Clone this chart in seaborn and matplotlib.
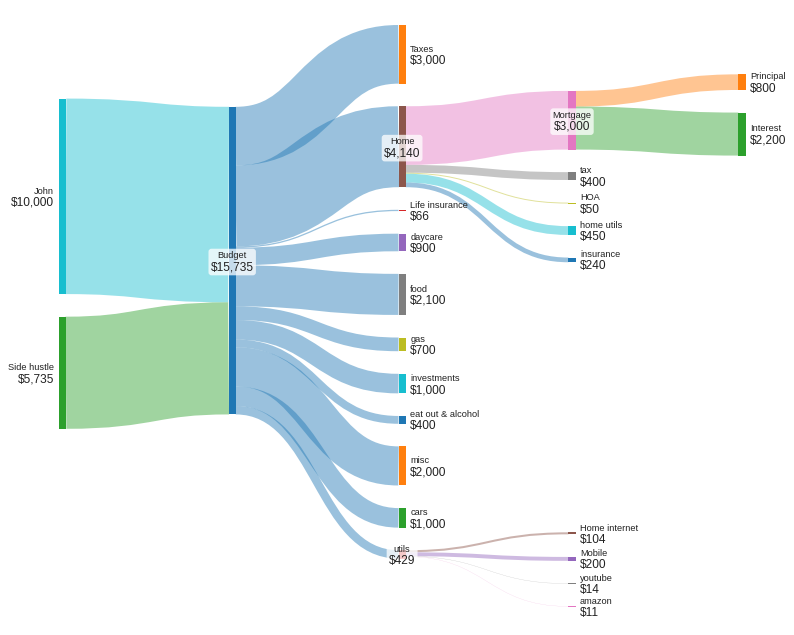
"""
Budget flow Sankey diagram (income -> budget -> spending categories).

The layout is computed here: node heights come from the flow values,
columns from the link depth, and each column is placed so that the
links bend as little as possible (weighted isotonic fit with padding).
"""

import matplotlib
matplotlib.use("Agg")
import matplotlib.pyplot as plt
from matplotlib.path import Path
from matplotlib.patches import PathPatch, Rectangle, FancyBboxPatch
import seaborn as sns

# Nodes, in the order they stack inside each column
NODES = [
    'John', 'Side hustle',
    'Budget',
    'Taxes', 'Home', 'Life insurance', 'daycare', 'food', 'gas',
    'investments', 'eat out & alcohol', 'misc', 'cars', 'utils',
    'Mortgage', 'tax', 'HOA', 'home utils', 'insurance',
    'Home internet', 'Mobile', 'youtube', 'amazon',
    'Principal', 'Interest',
]

# Flows
SOURCES = [
    'John', 'Side hustle',
    'Budget', 'Budget', 'Budget', 'Budget', 'Budget', 'Budget',
    'Budget', 'Budget', 'Budget', 'Budget', 'Budget',
    'Home', 'Home', 'Home', 'Home', 'Home',
    'utils', 'utils', 'utils', 'utils',
    'Mortgage', 'Mortgage',
]
TARGETS = [
    'Budget', 'Budget',
    'Taxes', 'Home', 'Life insurance', 'daycare', 'food', 'gas',
    'investments', 'eat out & alcohol', 'misc', 'cars', 'utils',
    'Mortgage', 'tax', 'HOA', 'home utils', 'insurance',
    'Home internet', 'Mobile', 'youtube', 'amazon',
    'Principal', 'Interest',
]
VALUES = [
    10000, 5735,
    3000, 4140, 66, 900, 2100, 700, 1000, 400, 2000, 1000, 429,
    3000, 400, 50, 450, 240,
    104, 200, 14, 11,
    800, 2200,
]

# Colours: indices into the tab10 palette
PALETTE = sns.color_palette("tab10")
NODE_COLOR = {
    'John': 9, 'Side hustle': 2, 'Budget': 0, 'Taxes': 1, 'Home': 5,
    'Life insurance': 3, 'daycare': 4, 'food': 7, 'gas': 8,
    'investments': 9, 'eat out & alcohol': 0, 'misc': 1, 'cars': 2,
    'utils': 3, 'Mortgage': 6, 'tax': 7, 'HOA': 8, 'home utils': 9,
    'insurance': 0, 'Home internet': 5, 'Mobile': 4, 'youtube': 7,
    'amazon': 6, 'Principal': 1, 'Interest': 2,
}
# which end of each flow gives it its colour
LINK_COLOR_FROM = (['source'] * 13) + (['target'] * 11)
LINK_ALPHA = 0.45

# Layout constants (pixels)
W, H, DPI = 794, 635, 100
KY = 0.01955          # pixels per dollar
PAD = 22.6            # gap between nodes in a column
TOP = 25
LEFT = 58.7
COL_STEP = 169.9
NODE_W = 7.2
NAME_SIZE = 6.7
VALUE_SIZE = 8.6
TEXT_COLOR = '#222222'


def compute_layout():
    idx = {name: i for i, name in enumerate(NODES)}
    n = len(NODES)
    src = [idx[s] for s in SOURCES]
    tgt = [idx[t] for t in TARGETS]

    # column = longest path from a source
    depth = [0] * n
    for _ in range(n):
        for s, t in zip(src, tgt):
            depth[t] = max(depth[t], depth[s] + 1)

    inflow = [0.0] * n
    outflow = [0.0] * n
    for s, t, v in zip(src, tgt, VALUES):
        outflow[s] += v
        inflow[t] += v
    height = [max(inflow[i], outflow[i]) * KY for i in range(n)]

    columns = [[i for i in range(n) if depth[i] == d] for d in range(max(depth) + 1)]
    order = {}
    for col in columns:
        for pos, i in enumerate(col):
            order[i] = pos

    # link offsets inside their source / target node
    off_out = [0.0] * len(VALUES)
    off_in = [0.0] * len(VALUES)
    for i in range(n):
        outs = sorted([k for k in range(len(VALUES)) if src[k] == i], key=lambda k: order[tgt[k]])
        acc = 0.0
        for k in outs:
            off_out[k] = acc
            acc += VALUES[k] * KY
        ins = sorted([k for k in range(len(VALUES)) if tgt[k] == i], key=lambda k: order[src[k]])
        acc = 0.0
        for k in ins:
            off_in[k] = acc
            acc += VALUES[k] * KY

    y = [None] * n

    def fit_column(col):
        desired, weight = [], []
        for i in col:
            num, den = 0.0, 0.0
            for k in range(len(VALUES)):
                if tgt[k] == i and y[src[k]] is not None:
                    num += VALUES[k] * (y[src[k]] + off_out[k] - off_in[k])
                    den += VALUES[k]
                if src[k] == i and y[tgt[k]] is not None:
                    num += VALUES[k] * (y[tgt[k]] + off_in[k] - off_out[k])
                    den += VALUES[k]
            desired.append(num / den if den else TOP)
            weight.append(den if den else 1.0)
        # shift out the stacking offsets, then isotonic (PAVA) fit
        cum, acc = [], 0.0
        for i in col:
            cum.append(acc)
            acc += height[i] + PAD
        z = [d - c for d, c in zip(desired, cum)]
        blocks = []
        for zi, wi in zip(z, weight):
            blocks.append([zi * wi, wi, 1])
            while len(blocks) > 1 and blocks[-2][0] / blocks[-2][1] > blocks[-1][0] / blocks[-1][1]:
                b = blocks.pop()
                blocks[-1][0] += b[0]
                blocks[-1][1] += b[1]
                blocks[-1][2] += b[2]
        fitted = []
        for b in blocks:
            fitted += [max(b[0] / b[1], TOP)] * b[2]
        for i, zi, c in zip(col, fitted, cum):
            y[i] = zi + c

    # the tallest column is stacked from the top, the others follow it
    need = [sum(height[i] for i in col) + (len(col) - 1) * PAD for col in columns]
    anchor = need.index(max(need))
    acc = TOP
    for i in columns[anchor]:
        y[i] = acc
        acc += height[i] + PAD
    for d in range(anchor - 1, -1, -1):
        fit_column(columns[d])
    for d in range(anchor + 1, len(columns)):
        fit_column(columns[d])

    x = [LEFT + depth[i] * COL_STEP for i in range(n)]
    return dict(src=src, tgt=tgt, depth=depth, x=x, y=y, height=height,
                inflow=inflow, outflow=outflow, off_out=off_out, off_in=off_in)


def draw_sankey(ax, lay):
    # flows: thick bezier strokes
    for k, v in enumerate(VALUES):
        s, t = lay['src'][k], lay['tgt'][k]
        w = v * KY
        x0 = lay['x'][s] + NODE_W
        x1 = lay['x'][t]
        y0 = lay['y'][s] + lay['off_out'][k] + w / 2
        y1 = lay['y'][t] + lay['off_in'][k] + w / 2
        xm = (x0 + x1) / 2
        path = Path([(x0, y0), (xm, y0), (xm, y1), (x1, y1)],
                    [Path.MOVETO, Path.CURVE4, Path.CURVE4, Path.CURVE4])
        end = NODES[s] if LINK_COLOR_FROM[k] == 'source' else NODES[t]
        color = PALETTE[NODE_COLOR[end]]
        ax.add_patch(PathPatch(path, fill=False, lw=w * 72 / DPI,
                               edgecolor=(*color, LINK_ALPHA),
                               capstyle='butt', zorder=1))

    # nodes
    for i, name in enumerate(NODES):
        ax.add_patch(Rectangle((lay['x'][i], lay['y'][i]), NODE_W, lay['height'][i],
                               facecolor=PALETTE[NODE_COLOR[name]], lw=0, zorder=2))

    # labels
    boxed = []
    for i, name in enumerate(NODES):
        value = max(lay['inflow'][i], lay['outflow'][i])
        cy = lay['y'][i] + lay['height'][i] / 2
        if lay['depth'][i] == 0:
            lx, ha = lay['x'][i] - 4.5, 'right'
        elif lay['inflow'][i] > 0 and lay['outflow'][i] > 0:
            lx, ha = lay['x'][i] + NODE_W / 2, 'center'
        else:
            lx, ha = lay['x'][i] + NODE_W + 4.5, 'left'
        t1 = ax.text(lx, cy - 2.7, name, ha=ha, va='baseline',
                     fontsize=NAME_SIZE, color=TEXT_COLOR, zorder=5)
        t2 = ax.text(lx, cy + 9.5, f"${value:,.0f}", ha=ha, va='baseline',
                     fontsize=VALUE_SIZE, color=TEXT_COLOR, zorder=5)
        if ha == 'center':
            boxed.append((t1, t2))
    return boxed


def add_label_boxes(fig, ax, boxed):
    fig.canvas.draw()
    renderer = fig.canvas.get_renderer()
    inv = ax.transData.inverted()
    for t1, t2 in boxed:
        b1 = t1.get_window_extent(renderer)
        b2 = t2.get_window_extent(renderer)
        (xa, ya), (xb, yb) = inv.transform([(min(b1.x0, b2.x0), min(b1.y0, b2.y0)),
                                            (max(b1.x1, b2.x1), max(b1.y1, b2.y1))])
        x0, x1 = min(xa, xb), max(xa, xb)
        y0, y1 = min(ya, yb), max(ya, yb)
        ax.add_patch(FancyBboxPatch((x0, y0), x1 - x0, y1 - y0,
                                    boxstyle='round,pad=2.2,rounding_size=3',
                                    facecolor=(1, 1, 1, 0.75), lw=0, zorder=4))


def main():
    sns.set_theme(style="white")
    plt.rcParams['font.family'] = ['Liberation Sans', 'DejaVu Sans']

    fig = plt.figure(figsize=(W / DPI, H / DPI), dpi=DPI)
    ax = fig.add_axes([0, 0, 1, 1])
    ax.set_xlim(0, W)
    ax.set_ylim(H, 0)
    ax.axis('off')

    lay = compute_layout()
    boxed = draw_sankey(ax, lay)
    add_label_boxes(fig, ax, boxed)

    fig.savefig("out.png", dpi=DPI, facecolor='white')


if __name__ == "__main__":
    main()
